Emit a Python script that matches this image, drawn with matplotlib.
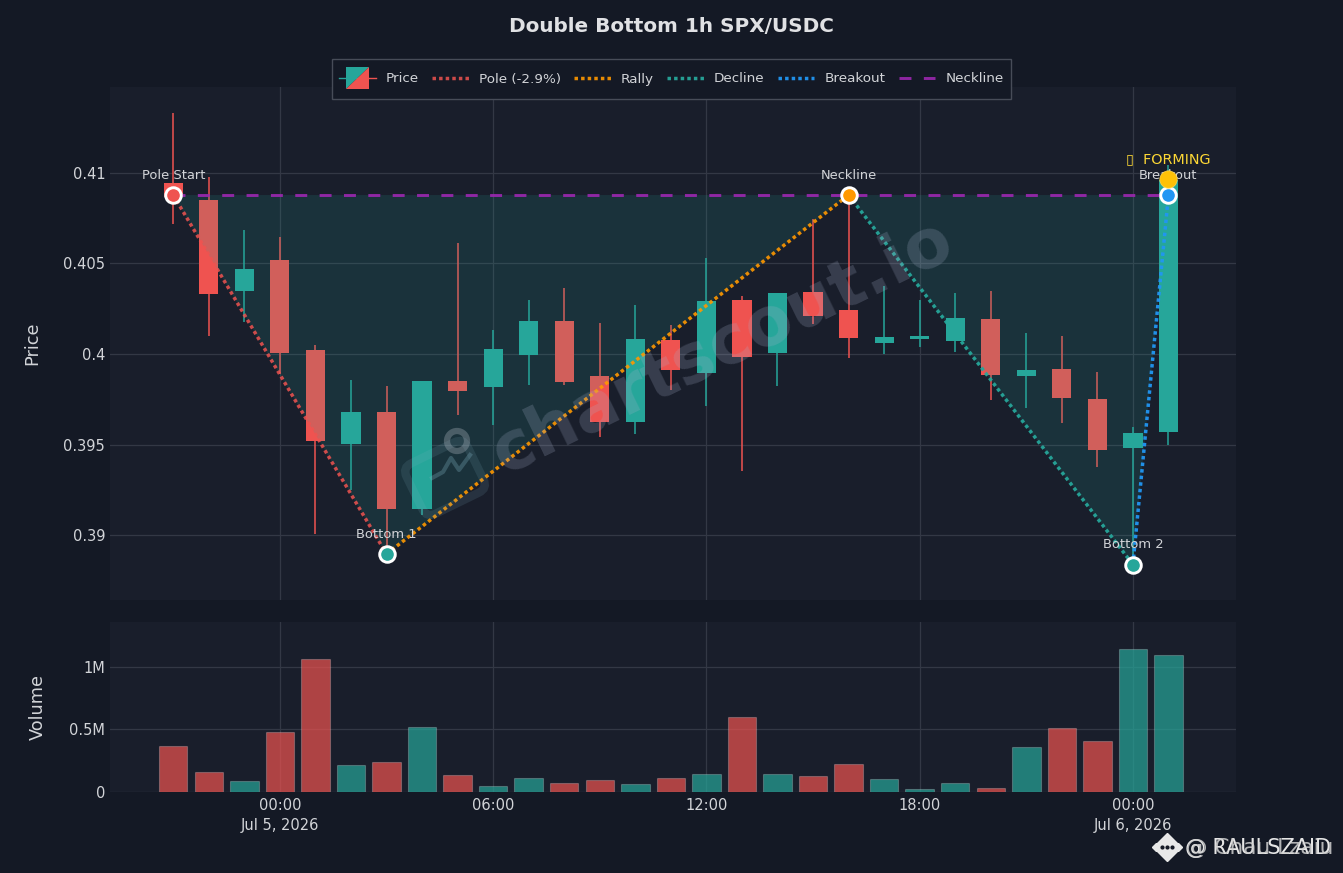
import matplotlib
matplotlib.use("Agg")
import matplotlib.pyplot as plt
from matplotlib.colors import to_rgba
from matplotlib.legend_handler import HandlerBase
from matplotlib.lines import Line2D
from matplotlib.patches import Circle, FancyBboxPatch, Polygon, Rectangle
from matplotlib.transforms import Affine2D, IdentityTransform

# hours relative to Jul 5 2026 00:00
hours = list(range(-3, 26))
opens = [0.40945, 0.40853, 0.40347, 0.40518, 0.4002, 0.39504, 0.3968, 0.39143, 0.3985, 0.3982,
         0.39994, 0.4018, 0.39879, 0.39625, 0.40075, 0.39893, 0.40301, 0.40007, 0.40344, 0.40243,
         0.40059, 0.40083, 0.40072, 0.40193, 0.3988, 0.39919, 0.3975, 0.39483, 0.3957]
closes = [0.4087, 0.40331, 0.40469, 0.40004, 0.39522, 0.39678, 0.39143, 0.39849, 0.39798, 0.40029,
          0.4018, 0.39844, 0.39627, 0.40083, 0.39912, 0.40292, 0.39985, 0.40338, 0.4021, 0.40088,
          0.40094, 0.40099, 0.402, 0.39884, 0.39912, 0.39755, 0.39471, 0.39563, 0.4096]
highs = [0.4133, 0.4098, 0.40684, 0.40647, 0.4005, 0.39857, 0.39824, 0.3985, 0.40614, 0.40132,
         0.40301, 0.40362, 0.40173, 0.4027, 0.4016, 0.40528, 0.4032, 0.40338, 0.40748, 0.40873,
         0.40375, 0.40298, 0.40335, 0.40349, 0.40118, 0.40101, 0.39901, 0.39596, 0.41042]
lows = [0.4072, 0.4010, 0.40178, 0.3989, 0.39005, 0.3925, 0.3892, 0.3911, 0.39664, 0.39608,
        0.39829, 0.3983, 0.39544, 0.39557, 0.39801, 0.3971, 0.39355, 0.39824, 0.40164, 0.39976,
        0.4, 0.40037, 0.40013, 0.39746, 0.39704, 0.39621, 0.39375, 0.38846, 0.39498]
volumes = [0.37, 0.16, 0.088, 0.48, 1.06, 0.215, 0.24, 0.52, 0.133, 0.048, 0.112, 0.075, 0.096, 0.061, 0.112,
           0.14, 0.60, 0.14, 0.13, 0.225, 0.105, 0.02, 0.07, 0.035, 0.36, 0.51, 0.41, 1.14, 1.09]

neckline = 0.40878
pivot_x = [-3, 3, 16, 24, 25]
pivot_y = [neckline, 0.38895, neckline, 0.38837, neckline]
pivot_names = ["Pole Start", "Bottom 1", "Neckline", "Bottom 2", "Breakout"]
forming_x = 25
forming_y = 0.40964

price_ticks = [0.39, 0.395, 0.4, 0.405, 0.41]
price_tick_labels = ["0.39", "0.395", "0.4", "0.405", "0.41"]
volume_ticks = [0, 0.5, 1]
volume_tick_labels = ["0", "0.5M", "1M"]
time_ticks = [0, 6, 12, 18, 24]
time_tick_labels = ["00:00\nJul 5, 2026", "06:00", "12:00", "18:00", "00:00\nJul 6, 2026"]

PAPER = "#141925"
PLOT = "#191e2b"
GRID = "#333845"
TEXT = "#d2d4d8"
RED = "#ef5350"
GREEN = "#26a69a"
ORANGE = "#ff9800"
BLUE = "#2196f3"
PURPLE = "#9c27b0"
W, H = 1343, 873

plt.rcParams["font.family"] = "DejaVu Sans"
fig = plt.figure(figsize=(W / 100, H / 100), dpi=100, facecolor=PAPER)
ax = fig.add_axes([110 / W, 1 - 600 / H, 1126 / W, 513 / H])
ax_vol = fig.add_axes([110 / W, 1 - 792 / H, 1126 / W, 170 / H])


def style_axis(a):
    a.set_facecolor(PLOT)
    for s in a.spines.values():
        s.set_visible(False)
    a.grid(True, color=GRID, linewidth=0.9)
    a.set_axisbelow(True)
    a.tick_params(length=0, labelcolor=TEXT, labelsize=10.5)
    a.set_xlim(-4.78, 26.9)
    a.set_xticks(time_ticks)


style_axis(ax)
style_axis(ax_vol)
ax.set_ylim(0.38641, 0.41475)
ax.set_yticks(price_ticks)
ax.set_yticklabels(price_tick_labels)
ax.set_xticklabels([])
ax.set_ylabel("Price", color=TEXT, fontsize=12.8, labelpad=16)
ax_vol.set_ylim(0, 1.355)
ax_vol.set_yticks(volume_ticks)
ax_vol.set_yticklabels(volume_tick_labels)
ax_vol.set_xticklabels(time_tick_labels, linespacing=1.45)
ax_vol.tick_params(axis="x", pad=4)
ax_vol.set_ylabel("Volume", color=TEXT, fontsize=12.8, labelpad=16)

# candles
colors = [GREEN if c >= o else RED for o, c in zip(opens, closes)]
body_low = [min(o, c) for o, c in zip(opens, closes)]
body_size = [abs(o - c) for o, c in zip(opens, closes)]
ax.vlines(hours, lows, highs, colors=colors, linewidth=1.1, zorder=2)
ax.bar(hours, body_size, bottom=body_low, width=0.54, color=colors, zorder=2.1)

# pattern area sits on top of the candles
ax.add_patch(Polygon(list(zip(pivot_x, pivot_y)), closed=True, facecolor=GREEN, alpha=0.15,
                     edgecolor="none", zorder=3))

dots = (0, (1, 0.9))
ax.plot(pivot_x[:2], pivot_y[:2], color=RED, alpha=0.85, lw=2.5, ls=dots, zorder=4, label="Pole (-2.9%)")
ax.plot(pivot_x[1:3], pivot_y[1:3], color=ORANGE, alpha=0.9, lw=2.5, ls=dots, zorder=4, label="Rally")
ax.plot(pivot_x[2:4], pivot_y[2:4], color=GREEN, alpha=0.95, lw=2.5, ls=dots, zorder=4, label="Decline")
ax.plot(pivot_x[3:5], pivot_y[3:5], color=BLUE, alpha=0.95, lw=2.5, ls=dots, zorder=4, label="Breakout")
ax.plot([pivot_x[0], pivot_x[4]], [neckline, neckline], color=PURPLE, alpha=0.9, lw=2.1,
        ls=(0, (4.1, 4.25)), dash_capstyle="butt", zorder=4, label="Neckline")

marker_colors = [RED, GREEN, ORANGE, GREEN, BLUE]
for x, y, name, mc in zip(pivot_x, pivot_y, pivot_names, marker_colors):
    ax.plot([x], [y], "o", ms=11.2, mfc=mc, mec="white", mew=2.1, zorder=6)
    ax.annotate(name, (x, y), xytext=(0, 9.5), textcoords="offset points", ha="center", va="bottom",
                color=TEXT, fontsize=9.4, zorder=5)
ax.plot([forming_x], [forming_y], "o", ms=12.5, mfc="#ffc107", mec="#ffd54f", mew=0.5, zorder=7)
ax.annotate("\u25af  FORMING", (forming_x, forming_y), xytext=(0, 9.5), textcoords="offset points",
            ha="center", va="bottom", color="#fdd835", fontsize=10.4, zorder=7)

# volume
vol_faces = [to_rgba(c, 0.7) for c in colors]
ax_vol.bar(hours, volumes, width=0.8, color=vol_faces, edgecolor="#ffffff38", linewidth=0.8, zorder=3)


# legend swatch for the candles
class CandleHandler(HandlerBase):
    def create_artists(self, legend, orig, xd, yd, width, height, fontsize, trans):
        cy = height / 2 - yd
        side = width * 0.62
        x0 = (width - side) / 2
        whisker = Line2D([0, width / 2], [cy, cy], color=GREEN, lw=1, transform=trans)
        whisker2 = Line2D([width / 2, width], [cy, cy], color=RED, lw=1, transform=trans)
        up = Polygon([[x0, cy - side / 2], [x0, cy + side / 2], [x0 + side, cy + side / 2]],
                     facecolor=GREEN, transform=trans)
        dn = Polygon([[x0, cy - side / 2], [x0 + side, cy - side / 2], [x0 + side, cy + side / 2]],
                     facecolor=RED, transform=trans)
        return [whisker, whisker2, up, dn]


# frame drawn by hand, the legend one can't have different side and top padding
fig.add_artist(Rectangle((332 / W, 1 - 99 / H), 679 / W, 40 / H, transform=fig.transFigure,
                         facecolor=PAPER, edgecolor="#474c58", linewidth=1, zorder=8))
handles, labels = ax.get_legend_handles_labels()
price_handle = Rectangle((0, 0), 1, 1)
leg = fig.legend([price_handle] + handles, ["Price"] + labels, ncol=6, loc="center",
                 bbox_to_anchor=(671.5 / W, 1 - 79 / H), fontsize=9.7, labelcolor=TEXT,
                 handler_map={price_handle: CandleHandler()}, handlelength=2.7, handletextpad=0.75,
                 columnspacing=1.0, borderpad=1.0, borderaxespad=0, frameon=False)
leg.set_zorder(9)

fig.text(671.5 / W, 1 - 27 / H, "Double Bottom 1h SPX/USDC", color="#e0e1e4", fontsize=14.4,
         fontweight="bold", ha="center", va="center")

# chartscout watermark across the price panel
fig.text(722 / W, 1 - 347 / H, "chartscout.io", color="#a8b2cc", alpha=0.22, fontsize=49, fontweight="bold",
         rotation=26, rotation_mode="anchor", ha="center", va="center", zorder=10)
logo_tf = Affine2D().rotate_deg_around(445, H - 478, 26)
logo_col = "#7fb0c0"
fig.add_artist(FancyBboxPatch((411, H - 506), 68, 56, boxstyle="round,pad=0,rounding_size=10", fill=False,
                              edgecolor=logo_col, alpha=0.14, lw=6, transform=logo_tf, zorder=10))
fig.add_artist(Circle((457, H - 441), 10, fill=False, edgecolor="#a8b2bc", alpha=0.35, lw=4.5,
                      transform=IdentityTransform(), zorder=10))
fig.add_artist(Line2D([432, 443, 451, 459, 470], [H - 478, H - 472, H - 458, H - 470, H - 455], color=logo_col,
                      alpha=0.3, lw=3, transform=IdentityTransform(), zorder=10))

# reposter credit in the corner, two handles printed on top of each other
for dx, dy, size in [(0, 0, 14), (-11, 0, 4), (11, 0, 4)]:
    fig.add_artist(Line2D([(1166.5 + dx) / W], [1 - (847 + dy) / H], marker="D", ms=size, color="#e8e8e8",
                          transform=fig.transFigure, zorder=11))
for dx in [-5, 0, 5]:
    fig.add_artist(Line2D([(1166.5 + dx) / W], [1 - 847 / H], marker="o", ms=2, color=PAPER,
                          transform=fig.transFigure, zorder=12))
fig.text(1185 / W, 1 - 848 / H, "@ RAULSZAID", color="#e6e6e6", fontsize=15, ha="left", va="center", zorder=11)
fig.text(1186 / W, 1 - 848 / H, "@ Chau Lzaiu", color="#d0d0d0", alpha=0.85, fontsize=15.6, ha="left", va="center",
         zorder=11)

fig.savefig("out.png", dpi=100, facecolor=PAPER)
